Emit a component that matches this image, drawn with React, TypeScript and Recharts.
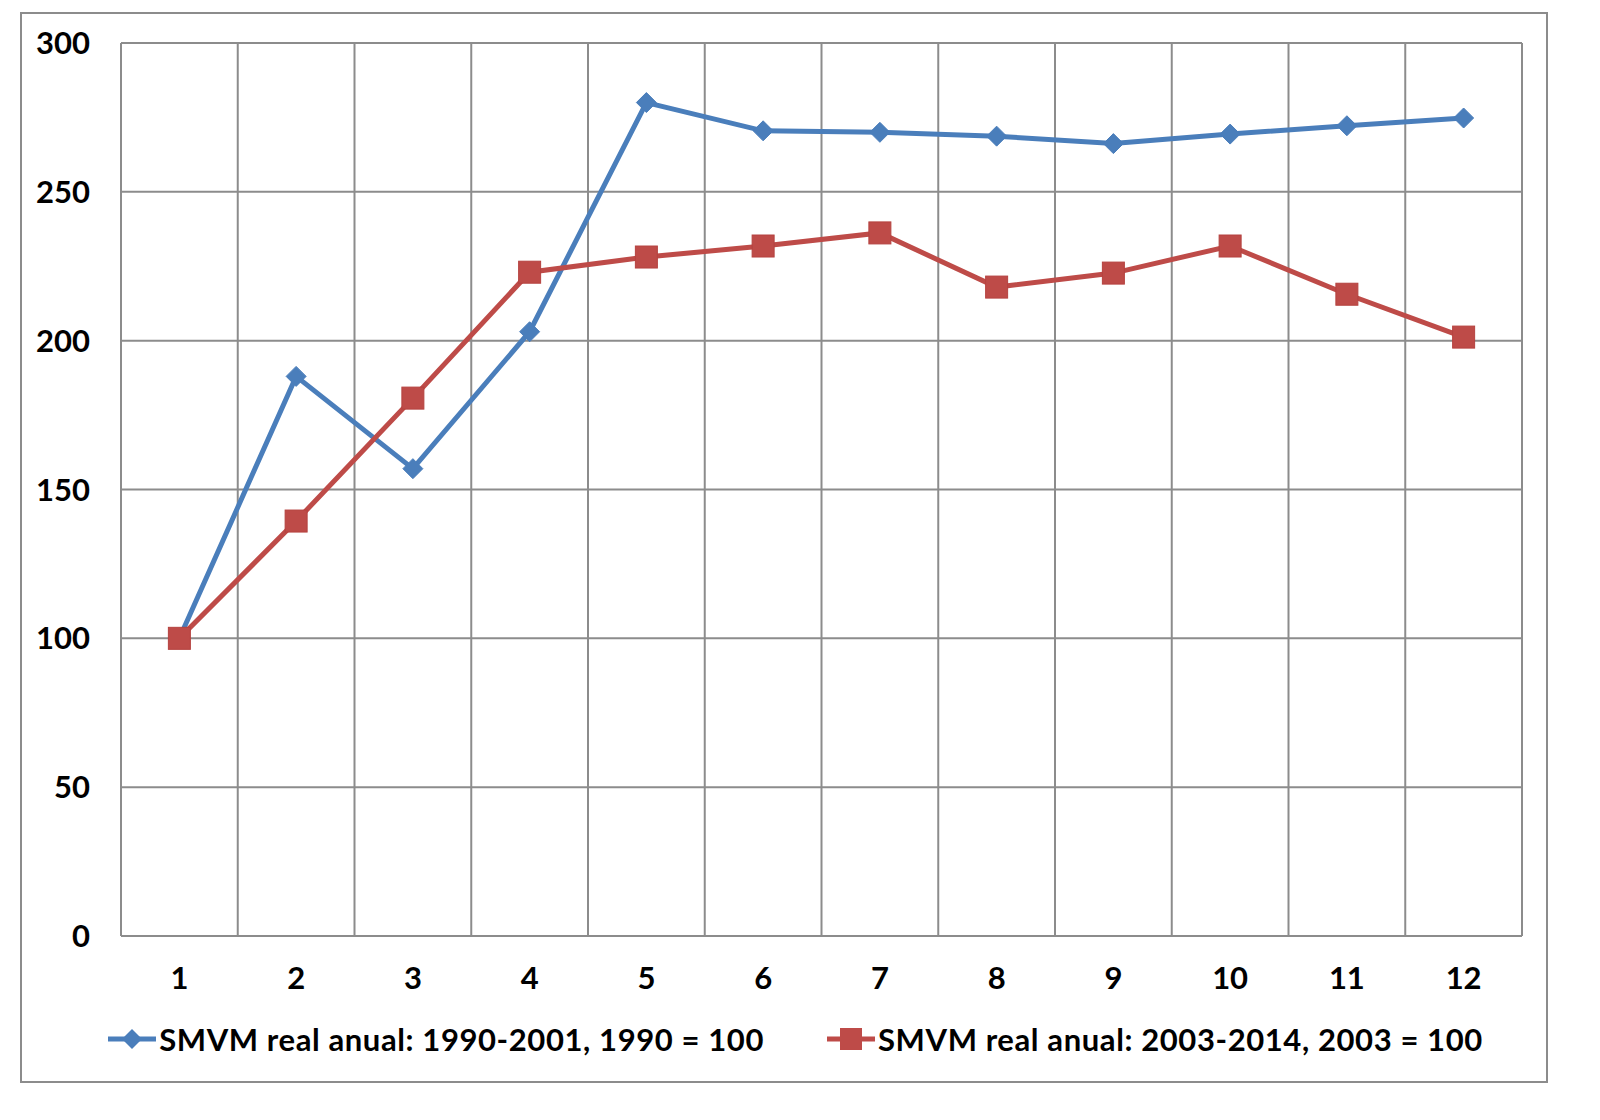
import { LineChart, Line, XAxis, YAxis, CartesianGrid, Legend } from "recharts";

// ─── Data ────────────────────────────────────────────────
const periods = [1, 2, 3, 4, 5, 6, 7, 8, 9, 10, 11, 12];
const serie1990 = [100, 188, 157, 203, 280, 270.5, 270, 268.7, 266.2, 269.4, 272.2, 274.8];
const serie2003 = [100, 139.4, 180.7, 223, 228.1, 231.8, 236.2, 218, 222.7, 231.8, 215.6, 201.2];
const yTicks = [0, 50, 100, 150, 200, 250, 300];
const gridTicks = [0.5, 1.5, 2.5, 3.5, 4.5, 5.5, 6.5, 7.5, 8.5, 9.5, 10.5, 11.5, 12.5];
const label1990 = "SMVM real anual: 1990-2001, 1990 = 100";
const label2003 = "SMVM real anual: 2003-2014, 2003 = 100";

const data = periods.map((p, i) => ({ p, a: serie1990[i], b: serie2003[i] }));

const BLUE = "#4a7ebb";
const RED = "#be4b48";
const GRID = "#8c8c8c";
const FONT = "Lato, 'Open Sans', sans-serif";

// ─── Markers ─────────────────────────────────────────────
function Diamond({ cx, cy }: { cx?: number; cy?: number }) {
  if (cx == null || cy == null) return null;
  const r = 10;
  return (
    <path
      d={`M${cx},${cy - r} L${cx + r},${cy} L${cx},${cy + r} L${cx - r},${cy} Z`}
      fill={BLUE}
      stroke={BLUE}
      strokeWidth={1}
    />
  );
}

function Square({ cx, cy }: { cx?: number; cy?: number }) {
  if (cx == null || cy == null) return null;
  const r = 11;
  return <rect x={cx - r} y={cy - r} width={r * 2} height={r * 2} fill={RED} stroke="#b5423f" strokeWidth={1} />;
}

// ─── Legend ──────────────────────────────────────────────
function LegendContent() {
  const item = (color: string, text: string, marker: "d" | "s") => (
    <div style={{ display: "flex", alignItems: "center" }}>
      <svg width={50} height={26}>
        <line x1={1} y1={13} x2={49} y2={13} stroke={color} strokeWidth={5} />
        {marker === "d" ? (
          <path d="M25,3 L35,13 L25,23 L15,13 Z" fill={color} />
        ) : (
          <rect x={14} y={2} width={22} height={22} fill={color} />
        )}
      </svg>
      <span style={{ marginLeft: 2 }}>{text}</span>
    </div>
  );
  return (
    <div
      style={{
        display: "flex",
        justifyContent: "center",
        gap: 62,
        fontFamily: FONT,
        fontWeight: 700,
        fontSize: 31,
        letterSpacing: 0.6,
        color: "#000",
        paddingLeft: 46,
        paddingTop: 14,
      }}
    >
      {item(BLUE, label1990, "d")}
      {item(RED, label2003, "s")}
    </div>
  );
}

// ─── Component ───────────────────────────────────────────
export default function App() {
  const tick = { fontSize: 31, fontWeight: 700, fill: "#000", fontFamily: FONT };
  return (
    <div
      style={{
        position: "absolute",
        left: 20,
        top: 12,
        width: 1524,
        height: 1067,
        border: "2px solid #8c8c8c",
        background: "#fff",
      }}
    >
      <LineChart width={1524} height={1067} data={data} margin={{ top: 29, right: 24, left: 0, bottom: 0 }}>
        <CartesianGrid xAxisId="grid" stroke={GRID} strokeWidth={2} horizontal vertical />
        <XAxis
          xAxisId="grid"
          dataKey="p"
          type="number"
          domain={[0.5, 12.5]}
          ticks={gridTicks}
          hide
        />
        <XAxis
          dataKey="p"
          type="number"
          domain={[0.5, 12.5]}
          ticks={periods}
          interval={0}
          tickLine={false}
          tickSize={0}
          tickMargin={31}
          axisLine={{ stroke: GRID, strokeWidth: 2 }}
          tick={tick}
          height={70}
        />
        <YAxis
          domain={[0, 300]}
          ticks={yTicks}
          tickLine={false}
          tickSize={0}
          tickMargin={31}
          axisLine={{ stroke: GRID, strokeWidth: 2 }}
          tick={tick}
          width={99}
        />
        <Legend verticalAlign="bottom" height={75} content={<LegendContent />} />
        <Line
          dataKey="a"
          stroke={BLUE}
          strokeWidth={5}
          dot={<Diamond />}
          activeDot={false}
          isAnimationActive={false}
        />
        <Line
          dataKey="b"
          stroke={RED}
          strokeWidth={5}
          dot={<Square />}
          activeDot={false}
          isAnimationActive={false}
        />
      </LineChart>
    </div>
  );
}
